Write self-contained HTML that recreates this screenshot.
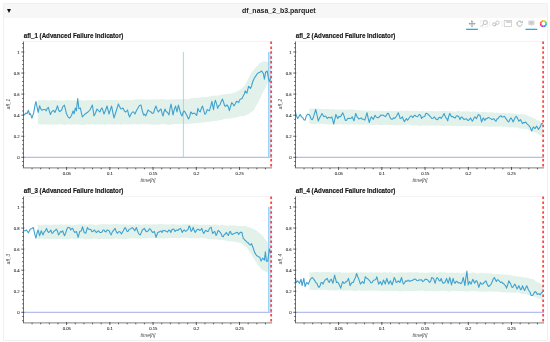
<!DOCTYPE html>
<html><head><meta charset="utf-8"><title>df_nasa_2_b3.parquet</title>
<style>
html,body{margin:0;padding:0;background:#fff;}
body{width:550px;height:342px;overflow:hidden;position:relative;font-family:"Liberation Sans",Arial,sans-serif;}
.card{position:absolute;left:2.8px;top:2.8px;width:543.4px;height:335.8px;border:1px solid #f0f0f0;border-radius:1px;background:#fff;box-sizing:content-box;}
.hdr{position:absolute;left:4px;top:4px;width:543px;height:13.5px;background:#f7f7f7;}
.hdr .arrow{position:absolute;left:3.4px;top:5.2px;width:0;height:0;border-left:2.2px solid transparent;border-right:2.2px solid transparent;border-top:4.2px solid #111;}
.hdr .ttl{position:absolute;left:7.4px;right:0;top:1.7px;text-align:center;font-weight:bold;font-size:7.3px;line-height:9px;transform:scaleX(0.958);transform-origin:50% 50%;color:#1a1a1a;letter-spacing:0;}
svg{position:absolute;left:0;top:0;}
svg text{font-family:"Liberation Sans",Arial,sans-serif;}
.tk text{font-size:4.25px;fill:#222;stroke:#222;stroke-width:0.06px;}
.al{font-size:4.7px;font-style:italic;fill:#444;}
.tt{font-size:6.65px;font-weight:bold;fill:#151515;stroke:#151515;stroke-width:0.15px;}
</style></head><body>
<div class="card"></div>
<div class="hdr"><div class="arrow"></div><div class="ttl">df_nasa_2_b3.parquet</div></div>
<svg width="550" height="342" viewBox="0 0 550 342">
<g transform="translate(0,0)">
<rect x="23.5" y="41.5" width="248.5" height="126.4" fill="#fff" stroke="#ececec" stroke-width="0.6"/>
<polygon points="37.80,99.89 39.80,100.14 41.80,100.30 43.80,100.11 45.80,99.94 47.80,100.80 49.80,100.33 51.80,100.33 53.80,99.98 55.80,100.07 57.80,100.38 59.80,100.20 61.80,100.48 63.80,100.64 65.80,99.94 67.80,99.90 69.80,100.52 71.80,100.24 73.80,100.43 75.80,100.59 77.80,100.59 79.80,99.83 81.80,100.42 83.80,100.65 85.80,100.23 87.80,100.08 89.80,100.05 91.80,100.34 93.80,100.14 95.80,100.26 97.80,100.00 99.80,100.37 101.80,100.03 103.80,99.78 105.80,100.41 107.80,99.99 109.80,100.03 111.80,100.12 113.80,100.02 115.80,100.09 117.80,100.18 119.80,100.41 121.80,100.21 123.80,99.99 125.80,99.68 127.80,99.88 129.80,99.89 131.80,100.22 133.80,99.66 135.80,99.20 137.80,99.54 139.80,99.53 141.80,99.08 143.80,99.50 145.80,99.49 147.80,99.60 149.80,99.39 151.80,99.59 153.80,99.19 155.80,99.46 157.80,99.54 159.80,99.28 161.80,99.10 163.80,99.13 165.80,99.53 167.80,99.63 169.80,99.35 171.80,99.61 173.80,99.16 175.80,99.34 177.80,99.08 179.80,99.33 181.80,99.17 183.80,98.92 185.80,98.90 187.80,99.19 189.80,98.70 191.80,97.98 193.80,97.99 195.80,97.88 197.80,97.61 199.80,97.66 201.80,97.12 203.80,97.14 205.80,96.98 207.80,97.02 209.80,96.18 211.80,96.17 213.80,95.47 215.80,95.75 217.80,95.38 219.80,95.00 221.80,94.83 223.80,93.96 225.80,94.19 227.80,93.63 229.80,93.89 231.80,93.23 233.80,92.85 235.80,92.09 237.80,90.79 239.80,90.00 241.80,88.56 243.80,86.37 245.80,84.10 247.80,79.53 249.80,75.65 251.80,71.97 253.80,69.78 255.80,66.90 257.80,65.63 259.80,62.76 261.80,62.13 263.80,61.26 265.80,61.47 267.80,61.65 269.80,62.43 271.00,62.49 271.00,77.05 269.80,78.88 267.80,82.96 265.80,87.05 263.80,90.87 261.80,94.48 259.80,99.45 257.80,102.89 255.80,106.53 253.80,110.05 251.80,111.73 249.80,113.05 247.80,114.42 245.80,115.14 243.80,116.16 241.80,116.25 239.80,116.28 237.80,116.91 235.80,117.58 233.80,117.84 231.80,118.29 229.80,118.38 227.80,118.75 225.80,118.82 223.80,119.10 221.80,120.09 219.80,120.12 217.80,120.67 215.80,120.66 213.80,121.29 211.80,121.30 209.80,121.74 207.80,122.36 205.80,121.78 203.80,122.59 201.80,122.56 199.80,122.79 197.80,123.03 195.80,123.28 193.80,123.16 191.80,123.53 189.80,124.02 187.80,123.64 185.80,123.99 183.80,124.19 181.80,123.52 179.80,124.32 177.80,124.28 175.80,123.90 173.80,123.98 171.80,124.61 169.80,124.63 167.80,125.03 165.80,124.01 163.80,124.37 161.80,123.92 159.80,124.75 157.80,124.58 155.80,125.01 153.80,124.62 151.80,124.71 149.80,124.17 147.80,124.29 145.80,124.15 143.80,124.25 141.80,124.06 139.80,124.47 137.80,124.55 135.80,124.35 133.80,124.31 131.80,124.29 129.80,124.56 127.80,124.70 125.80,124.31 123.80,124.26 121.80,124.94 119.80,124.62 117.80,124.33 115.80,124.67 113.80,124.49 111.80,124.69 109.80,124.37 107.80,124.32 105.80,124.99 103.80,124.57 101.80,124.60 99.80,124.72 97.80,124.26 95.80,124.65 93.80,124.40 91.80,124.06 89.80,124.43 87.80,124.55 85.80,124.22 83.80,125.00 81.80,125.05 79.80,124.47 77.80,124.68 75.80,124.26 73.80,124.54 71.80,124.68 69.80,124.38 67.80,124.11 65.80,124.88 63.80,125.01 61.80,124.25 59.80,124.28 57.80,124.64 55.80,124.68 53.80,124.32 51.80,124.83 49.80,124.71 47.80,124.38 45.80,124.43 43.80,124.31 41.80,124.44 39.80,124.27 37.80,124.42" fill="#e2f2ea"/>
<line x1="23.5" y1="157.3" x2="272" y2="157.3" stroke="#a0a6e8" stroke-width="0.95"/>
<rect x="268.4" y="51.9" width="2.8" height="105.4" fill="#c4e5f9"/>
<line x1="268.5" y1="51.9" x2="268.5" y2="157.3" stroke="#8acff5" stroke-width="0.8"/>
<line x1="183.4" y1="51.9" x2="183.4" y2="157.3" stroke="#86d8f5" stroke-width="0.85"/>
<polyline points="23.60,114.50 24.70,114.51 25.80,113.10 27.00,113.80 28.40,110.20 29.50,114.50 30.50,113.80 31.90,118.20 33.80,112.40 34.90,105.70 36.00,101.50 37.10,107.30 38.20,112.40 39.60,105.80 40.70,108.65 41.80,110.20 42.90,109.85 44.00,109.50 45.10,109.48 46.20,110.90 47.30,108.31 48.40,107.30 49.45,111.58 50.50,114.50 51.60,111.84 52.70,110.90 53.80,110.58 54.90,112.40 56.20,109.58 57.50,105.80 58.55,109.88 59.60,111.60 61.50,110.20 62.95,106.36 64.40,105.10 65.45,109.48 66.50,113.80 68.00,116.81 69.50,118.20 70.55,117.04 71.60,115.30 73.10,110.90 74.10,113.80 75.30,108.00 76.40,110.90 77.70,98.50 78.90,108.70 80.40,108.00 81.40,113.08 82.40,117.00 85.20,113.96 88.00,112.00 90.20,109.59 92.40,105.00 94.00,116.00 95.50,113.06 97.00,109.00 98.50,110.61 100.00,112.00 101.00,109.07 102.00,108.00 103.00,110.67 104.00,114.00 105.50,110.45 107.00,106.00 108.00,109.85 109.00,114.00 110.30,109.83 111.60,106.00 112.80,112.31 114.00,118.00 116.20,111.03 118.40,104.00 119.70,106.89 121.00,109.00 122.00,108.76 123.00,108.00 124.30,110.79 125.60,112.00 126.60,111.06 127.60,110.00 128.60,114.56 129.60,117.00 131.00,114.03 132.40,112.00 133.70,111.94 135.00,114.00 136.50,110.48 138.00,108.00 139.50,105.50 141.00,105.00 142.30,110.85 143.60,115.00 144.60,114.32 145.60,116.00 146.80,113.33 148.00,110.00 149.50,111.12 151.00,112.00 152.30,113.33 153.60,113.00 154.80,108.72 156.00,106.00 157.20,109.93 158.40,112.00 159.70,110.11 161.00,109.00 162.00,113.16 163.00,116.00 164.00,111.97 165.00,109.00 166.00,111.50 167.00,112.00 168.00,113.05 169.00,115.00 170.00,108.63 171.00,104.00 172.00,109.22 173.00,115.00 174.30,109.44 175.60,106.00 177.00,112.00 178.40,105.00 180.00,111.00 181.00,114.33 182.00,116.00 183.00,112.59 184.00,111.00 185.00,112.00 186.75,115.20 188.50,119.00 189.65,116.66 190.80,112.00 192.55,113.82 194.30,113.10 195.50,114.14 196.70,115.40 197.90,108.40 199.05,111.00 200.20,111.90 201.35,108.30 202.50,106.00 203.70,110.40 204.90,114.30 206.05,113.00 207.20,109.60 208.35,110.24 209.50,110.70 210.70,106.28 211.90,101.40 213.50,109.60 214.45,103.70 215.40,100.20 216.55,103.93 217.70,108.40 218.85,105.56 220.00,104.90 221.20,101.44 222.40,99.00 223.55,102.06 224.70,106.00 225.85,106.16 227.00,104.90 228.20,106.60 229.40,110.70 230.55,106.47 231.70,102.60 232.85,103.82 234.00,106.00 235.20,104.05 236.40,101.40 237.55,101.60 238.70,102.60 239.85,99.61 241.00,99.00 242.20,98.29 243.40,95.60 244.35,93.93 245.30,90.90 246.90,93.20 248.60,86.20 250.40,88.50 251.60,85.98 252.80,81.50 253.95,78.99 255.10,76.90 256.25,75.42 257.40,73.40 258.60,72.84 259.80,72.20 261.60,71.00 263.30,73.40 264.40,79.20 265.60,72.20 267.20,71.00 268.60,79.20 269.60,81.50 270.50,78.00 271.00,78.00" fill="none" stroke="#3fa2d0" stroke-width="1.1" stroke-linejoin="round"/>
<line x1="271.1" y1="41.5" x2="271.1" y2="167.9" stroke="#ff2a2a" stroke-width="1.5" stroke-dasharray="2.5 2.4"/>
<path d="M23.5 167.9H272" fill="none" stroke="#555" stroke-width="0.7"/>
<path d="M23.5 41.5V168.2" fill="none" stroke="#3a3a3a" stroke-width="0.7"/>
<path d="M22.2 165.72H23.5M22.2 161.51H23.5M21.3 157.30H24.3M22.2 153.09H23.5M22.2 148.88H23.5M22.2 144.66H23.5M22.2 140.45H23.5M21.3 136.24H24.3M22.2 132.03H23.5M22.2 127.82H23.5M22.2 123.60H23.5M22.2 119.39H23.5M21.3 115.18H24.3M22.2 110.97H23.5M22.2 106.76H23.5M22.2 102.54H23.5M22.2 98.33H23.5M21.3 94.12H24.3M22.2 89.91H23.5M22.2 85.70H23.5M22.2 81.48H23.5M22.2 77.27H23.5M21.3 73.06H24.3M22.2 68.85H23.5M22.2 64.64H23.5M22.2 60.42H23.5M22.2 56.21H23.5M21.3 52.00H24.3M22.2 47.79H23.5M22.2 43.58H23.5M32.05 167.9V169.3M40.69 167.9V169.3M49.33 167.9V169.3M57.98 167.9V169.3M66.62 167.0V170.0M75.27 167.9V169.3M83.91 167.9V169.3M92.56 167.9V169.3M101.20 167.9V169.3M109.85 167.0V170.0M118.50 167.9V169.3M127.14 167.9V169.3M135.78 167.9V169.3M144.43 167.9V169.3M153.07 167.0V170.0M161.72 167.9V169.3M170.37 167.9V169.3M179.01 167.9V169.3M187.66 167.9V169.3M196.30 167.0V170.0M204.94 167.9V169.3M213.59 167.9V169.3M222.23 167.9V169.3M230.88 167.9V169.3M239.53 167.0V170.0M248.17 167.9V169.3M256.81 167.9V169.3M265.46 167.9V169.3" stroke="#333" stroke-width="0.8" fill="none"/>
<g class="tk" text-anchor="end">
<text x="19.6" y="158.80">0</text>
<text x="19.6" y="137.74">0.2</text>
<text x="19.6" y="116.68">0.4</text>
<text x="19.6" y="95.62">0.6</text>
<text x="19.6" y="74.56">0.8</text>
<text x="19.6" y="53.50">1</text>
</g><g class="tk" text-anchor="middle">
<text x="66.83" y="175.4">0.05</text>
<text x="110.05" y="175.4">0.1</text>
<text x="153.27" y="175.4">0.15</text>
<text x="196.50" y="175.4">0.2</text>
<text x="239.72" y="175.4">0.25</text>
</g>
<text class="al" x="148" y="182.4" text-anchor="middle" style="font-size:4.95px">time[h]</text>
<text class="al" transform="translate(9.7,104.1) rotate(-90)" text-anchor="middle">afl_1</text>
<text class="tt" x="23.7" y="38.15" textLength="99.7" lengthAdjust="spacingAndGlyphs">afl_1 (Advanced Failure Indicator)</text>
</g>
<g transform="translate(272,0)">
<rect x="23.5" y="41.5" width="248.5" height="126.4" fill="#fff" stroke="#ececec" stroke-width="0.6"/>
<polygon points="37.20,108.72 39.20,108.50 41.20,108.35 43.20,108.87 45.20,108.61 47.20,108.79 49.20,108.88 51.20,108.99 53.20,109.23 55.20,108.78 57.20,108.99 59.20,109.42 61.20,108.96 63.20,109.38 65.20,109.59 67.20,109.64 69.20,109.59 71.20,109.41 73.20,109.67 75.20,109.54 77.20,109.75 79.20,109.27 81.20,109.51 83.20,109.94 85.20,110.25 87.20,110.08 89.20,110.41 91.20,110.25 93.20,110.89 95.20,110.53 97.20,110.72 99.20,110.20 101.20,111.00 103.20,110.70 105.20,110.78 107.20,110.64 109.20,110.91 111.20,110.77 113.20,111.21 115.20,111.10 117.20,110.91 119.20,110.75 121.20,110.67 123.20,110.82 125.20,111.25 127.20,110.85 129.20,110.53 131.20,111.01 133.20,110.64 135.20,110.59 137.20,110.88 139.20,110.75 141.20,111.01 143.20,110.86 145.20,110.77 147.20,111.17 149.20,110.92 151.20,111.05 153.20,111.46 155.20,111.14 157.20,111.36 159.20,111.00 161.20,111.27 163.20,111.24 165.20,111.52 167.20,111.01 169.20,111.34 171.20,110.68 173.20,111.02 175.20,111.00 177.20,111.36 179.20,111.04 181.20,111.43 183.20,111.66 185.20,111.02 187.20,111.02 189.20,111.79 191.20,111.28 193.20,111.38 195.20,111.26 197.20,111.43 199.20,111.63 201.20,111.38 203.20,111.67 205.20,111.51 207.20,112.53 209.20,112.34 211.20,111.84 213.20,111.69 215.20,112.41 217.20,112.47 219.20,112.31 221.20,112.51 223.20,112.71 225.20,112.74 227.20,113.10 229.20,113.12 231.20,112.63 233.20,112.97 235.20,113.41 237.20,112.85 239.20,113.41 241.20,113.60 243.20,113.77 245.20,113.68 247.20,114.52 249.20,114.02 251.20,114.39 253.20,114.48 255.20,115.18 257.20,116.37 259.20,117.01 261.20,117.93 263.20,118.74 265.20,120.28 267.20,120.41 269.20,122.32 271.00,122.52 271.00,136.50 269.20,135.82 267.20,134.84 265.20,133.41 263.20,132.50 261.20,131.93 259.20,130.81 257.20,130.57 255.20,129.06 253.20,128.77 251.20,128.73 249.20,128.58 247.20,128.61 245.20,127.30 243.20,127.66 241.20,127.12 239.20,127.42 237.20,127.15 235.20,126.68 233.20,126.65 231.20,127.08 229.20,126.13 227.20,126.55 225.20,126.58 223.20,126.77 221.20,126.51 219.20,126.58 217.20,126.64 215.20,126.40 213.20,126.53 211.20,126.24 209.20,125.98 207.20,126.12 205.20,126.24 203.20,125.89 201.20,125.92 199.20,126.25 197.20,126.18 195.20,126.31 193.20,125.79 191.20,125.90 189.20,126.51 187.20,125.83 185.20,126.02 183.20,126.05 181.20,126.07 179.20,126.03 177.20,125.85 175.20,125.44 173.20,125.95 171.20,125.96 169.20,125.66 167.20,125.59 165.20,125.56 163.20,125.63 161.20,125.54 159.20,125.55 157.20,125.92 155.20,125.53 153.20,125.46 151.20,125.42 149.20,125.93 147.20,125.67 145.20,125.54 143.20,125.49 141.20,125.75 139.20,125.52 137.20,124.62 135.20,124.82 133.20,124.94 131.20,125.28 129.20,125.22 127.20,125.17 125.20,125.25 123.20,125.58 121.20,124.94 119.20,125.10 117.20,125.25 115.20,124.76 113.20,124.85 111.20,124.92 109.20,125.13 107.20,125.12 105.20,124.56 103.20,124.83 101.20,125.13 99.20,124.83 97.20,124.69 95.20,124.73 93.20,124.15 91.20,124.66 89.20,124.60 87.20,124.72 85.20,124.38 83.20,124.59 81.20,124.52 79.20,124.13 77.20,124.74 75.20,124.82 73.20,124.46 71.20,124.66 69.20,124.34 67.20,124.37 65.20,124.39 63.20,124.48 61.20,123.88 59.20,124.62 57.20,124.23 55.20,124.38 53.20,124.21 51.20,124.01 49.20,123.74 47.20,124.18 45.20,123.41 43.20,124.43 41.20,123.97 39.20,123.95 37.20,123.44" fill="#e2f2ea"/>
<line x1="23.5" y1="157.3" x2="272" y2="157.3" stroke="#a0a6e8" stroke-width="0.95"/>
<polyline points="23.50,112.01 24.10,115.20 25.70,118.50 26.95,116.49 28.20,114.40 29.40,116.71 30.60,117.60 31.85,119.81 33.10,120.10 34.30,115.97 35.50,114.40 36.60,114.31 37.70,115.20 39.30,119.30 40.30,119.64 41.30,117.60 42.50,113.58 43.70,109.50 44.95,114.73 46.20,120.90 47.80,117.60 48.90,115.65 50.00,113.50 51.90,116.80 53.60,116.00 55.20,118.50 56.40,117.33 57.60,117.60 58.70,118.00 59.80,116.80 60.75,120.09 61.70,124.20 62.80,119.40 63.90,114.40 65.80,118.50 67.05,116.37 68.30,116.80 69.50,115.20 70.70,112.70 71.95,115.65 73.20,120.10 74.40,120.42 75.60,118.50 76.85,118.17 78.10,118.50 79.15,118.31 80.20,116.80 81.90,120.90 83.80,113.50 84.80,116.23 85.80,117.60 86.85,119.01 87.90,118.50 89.15,117.89 90.40,119.30 91.60,119.18 92.80,120.10 93.90,116.33 95.00,112.70 96.15,118.05 97.30,122.50 98.35,119.02 99.40,116.80 101.30,119.30 103.10,115.20 104.10,116.92 105.10,117.60 106.30,117.61 107.50,116.80 108.70,115.17 109.90,115.20 111.15,115.14 112.40,116.00 113.45,116.61 114.50,115.20 115.50,113.27 116.50,113.50 118.10,117.60 119.30,119.09 120.50,119.30 121.60,117.76 122.70,118.50 124.60,116.00 126.30,112.70 128.20,118.50 129.30,118.25 130.40,116.80 131.45,119.88 132.50,121.70 133.50,119.86 134.50,118.50 135.45,120.18 136.40,119.30 137.50,117.53 138.60,116.00 139.65,115.99 140.70,117.60 141.85,116.01 143.00,115.20 144.30,116.56 145.60,116.80 146.60,115.23 147.60,114.40 148.55,115.28 149.50,118.50 150.55,117.17 151.60,116.80 152.70,116.45 153.80,113.50 154.95,113.40 156.10,114.40 157.70,116.00 158.75,117.15 159.80,118.50 161.05,118.26 162.30,116.80 164.20,119.30 165.55,119.60 166.90,117.60 168.05,117.21 169.20,118.50 170.80,116.00 172.10,113.50 173.70,117.60 174.70,118.50 175.70,120.90 176.75,116.24 177.80,113.50 179.50,116.80 180.70,116.44 181.90,117.60 183.15,118.09 184.40,116.00 185.60,115.74 186.80,116.80 188.00,119.60 189.00,117.34 190.00,117.10 191.05,118.36 192.10,119.60 193.30,119.04 194.50,118.70 195.50,120.16 196.50,120.40 197.55,119.46 198.60,117.90 200.30,121.20 201.35,119.46 202.40,117.10 203.40,116.99 204.40,118.70 205.35,116.75 206.30,114.60 208.00,115.50 209.60,122.00 211.20,117.90 212.90,120.40 213.95,118.56 215.00,118.70 216.25,117.40 217.50,117.90 218.70,118.62 219.90,119.60 220.95,118.97 222.00,118.70 223.00,120.56 224.00,121.20 225.00,118.84 226.00,118.70 227.05,116.92 228.10,116.30 229.15,115.83 230.20,117.10 231.35,116.72 232.50,116.30 233.55,118.16 234.60,119.60 235.70,121.16 236.80,122.00 237.95,119.21 239.10,117.90 240.15,119.74 241.20,122.00 242.25,119.46 243.30,117.10 244.30,116.42 245.30,117.90 246.90,121.20 248.60,119.60 249.55,121.78 250.50,123.60 251.55,122.49 252.60,122.80 253.70,121.99 254.80,123.60 256.70,125.30 258.40,127.70 259.70,131.00 261.30,126.90 263.00,128.60 264.60,126.10 266.50,129.40 268.20,126.90 269.50,123.60 271.00,123.80" fill="none" stroke="#3fa2d0" stroke-width="1.1" stroke-linejoin="round"/>
<line x1="271.1" y1="41.5" x2="271.1" y2="167.9" stroke="#ff2a2a" stroke-width="1.5" stroke-dasharray="2.5 2.4"/>
<path d="M23.5 167.9H272" fill="none" stroke="#555" stroke-width="0.7"/>
<path d="M23.5 41.5V168.2" fill="none" stroke="#3a3a3a" stroke-width="0.7"/>
<path d="M22.2 165.72H23.5M22.2 161.51H23.5M21.3 157.30H24.3M22.2 153.09H23.5M22.2 148.88H23.5M22.2 144.66H23.5M22.2 140.45H23.5M21.3 136.24H24.3M22.2 132.03H23.5M22.2 127.82H23.5M22.2 123.60H23.5M22.2 119.39H23.5M21.3 115.18H24.3M22.2 110.97H23.5M22.2 106.76H23.5M22.2 102.54H23.5M22.2 98.33H23.5M21.3 94.12H24.3M22.2 89.91H23.5M22.2 85.70H23.5M22.2 81.48H23.5M22.2 77.27H23.5M21.3 73.06H24.3M22.2 68.85H23.5M22.2 64.64H23.5M22.2 60.42H23.5M22.2 56.21H23.5M21.3 52.00H24.3M22.2 47.79H23.5M22.2 43.58H23.5M32.05 167.9V169.3M40.69 167.9V169.3M49.33 167.9V169.3M57.98 167.9V169.3M66.62 167.0V170.0M75.27 167.9V169.3M83.91 167.9V169.3M92.56 167.9V169.3M101.20 167.9V169.3M109.85 167.0V170.0M118.50 167.9V169.3M127.14 167.9V169.3M135.78 167.9V169.3M144.43 167.9V169.3M153.07 167.0V170.0M161.72 167.9V169.3M170.37 167.9V169.3M179.01 167.9V169.3M187.66 167.9V169.3M196.30 167.0V170.0M204.94 167.9V169.3M213.59 167.9V169.3M222.23 167.9V169.3M230.88 167.9V169.3M239.53 167.0V170.0M248.17 167.9V169.3M256.81 167.9V169.3M265.46 167.9V169.3" stroke="#333" stroke-width="0.8" fill="none"/>
<g class="tk" text-anchor="end">
<text x="19.6" y="158.80">0</text>
<text x="19.6" y="137.74">0.2</text>
<text x="19.6" y="116.68">0.4</text>
<text x="19.6" y="95.62">0.6</text>
<text x="19.6" y="74.56">0.8</text>
<text x="19.6" y="53.50">1</text>
</g><g class="tk" text-anchor="middle">
<text x="66.83" y="175.4">0.05</text>
<text x="110.05" y="175.4">0.1</text>
<text x="153.27" y="175.4">0.15</text>
<text x="196.50" y="175.4">0.2</text>
<text x="239.72" y="175.4">0.25</text>
</g>
<text class="al" x="148" y="182.4" text-anchor="middle" style="font-size:4.95px">time[h]</text>
<text class="al" transform="translate(9.7,104.1) rotate(-90)" text-anchor="middle">afl_2</text>
<text class="tt" x="23.7" y="38.15" textLength="99.7" lengthAdjust="spacingAndGlyphs">afl_2 (Advanced Failure Indicator)</text>
</g>
<g transform="translate(0,155)">
<rect x="23.5" y="41.5" width="248.5" height="126.4" fill="#fff" stroke="#ececec" stroke-width="0.6"/>
<polygon points="37.70,69.52 39.70,69.88 41.70,70.15 43.70,69.68 45.70,69.56 47.70,69.63 49.70,69.71 51.70,69.63 53.70,69.52 55.70,69.40 57.70,69.74 59.70,69.52 61.70,69.30 63.70,69.84 65.70,69.38 67.70,69.60 69.70,69.73 71.70,69.70 73.70,69.91 75.70,69.65 77.70,69.46 79.70,69.53 81.70,69.30 83.70,69.50 85.70,69.66 87.70,69.73 89.70,69.07 91.70,69.60 93.70,69.39 95.70,70.05 97.70,69.83 99.70,69.27 101.70,69.19 103.70,68.99 105.70,69.49 107.70,69.36 109.70,69.52 111.70,69.39 113.70,68.95 115.70,69.19 117.70,69.06 119.70,69.43 121.70,69.30 123.70,69.30 125.70,69.29 127.70,69.86 129.70,69.55 131.70,69.65 133.70,69.88 135.70,69.04 137.70,69.49 139.70,69.35 141.70,70.00 143.70,69.34 145.70,69.11 147.70,69.48 149.70,69.33 151.70,69.62 153.70,69.29 155.70,69.18 157.70,69.22 159.70,68.78 161.70,69.22 163.70,69.22 165.70,69.36 167.70,69.43 169.70,69.41 171.70,69.25 173.70,69.01 175.70,69.57 177.70,69.49 179.70,69.66 181.70,69.46 183.70,69.16 185.70,69.27 187.70,69.24 189.70,69.43 191.70,69.54 193.70,69.47 195.70,69.25 197.70,69.40 199.70,69.67 201.70,69.67 203.70,69.60 205.70,69.89 207.70,69.44 209.70,69.68 211.70,69.86 213.70,69.58 215.70,69.44 217.70,69.66 219.70,70.47 221.70,69.52 223.70,70.29 225.70,70.21 227.70,70.93 229.70,70.26 231.70,70.61 233.70,70.36 235.70,70.72 237.70,70.99 239.70,71.03 241.70,71.29 243.70,70.93 245.70,70.93 247.70,71.94 249.70,72.18 251.70,73.19 253.70,74.05 255.70,74.96 257.70,76.74 259.70,78.15 261.70,79.80 263.70,82.11 265.70,84.95 267.70,87.50 269.70,90.16 271.00,92.30 271.00,118.96 269.70,118.09 267.70,117.58 265.70,116.75 263.70,115.71 261.70,114.58 259.70,112.07 257.70,110.09 255.70,106.67 253.70,103.42 251.70,100.25 249.70,96.89 247.70,94.03 245.70,91.22 243.70,90.07 241.70,88.45 239.70,87.49 237.70,87.66 235.70,86.65 233.70,86.87 231.70,86.43 229.70,86.34 227.70,86.21 225.70,85.39 223.70,85.26 221.70,84.81 219.70,85.13 217.70,84.60 215.70,84.30 213.70,84.60 211.70,83.96 209.70,84.13 207.70,84.14 205.70,83.16 203.70,83.26 201.70,82.87 199.70,83.47 197.70,82.96 195.70,83.35 193.70,82.91 191.70,83.27 189.70,83.51 187.70,82.92 185.70,82.75 183.70,82.76 181.70,82.69 179.70,83.30 177.70,83.14 175.70,82.98 173.70,83.06 171.70,83.08 169.70,82.92 167.70,83.23 165.70,83.29 163.70,83.79 161.70,83.09 159.70,83.71 157.70,83.26 155.70,83.19 153.70,83.26 151.70,83.27 149.70,83.13 147.70,83.25 145.70,83.71 143.70,83.24 141.70,83.67 139.70,83.69 137.70,83.50 135.70,83.72 133.70,83.06 131.70,83.49 129.70,83.52 127.70,83.76 125.70,84.02 123.70,84.33 121.70,83.85 119.70,83.84 117.70,83.86 115.70,83.28 113.70,83.69 111.70,83.92 109.70,83.97 107.70,83.88 105.70,83.93 103.70,83.93 101.70,83.75 99.70,84.32 97.70,83.97 95.70,83.52 93.70,83.68 91.70,84.12 89.70,84.24 87.70,84.07 85.70,84.44 83.70,84.00 81.70,83.62 79.70,83.76 77.70,83.83 75.70,83.90 73.70,84.16 71.70,83.58 69.70,83.96 67.70,84.33 65.70,84.20 63.70,84.16 61.70,83.72 59.70,84.10 57.70,83.98 55.70,83.86 53.70,84.04 51.70,84.01 49.70,84.31 47.70,84.00 45.70,83.74 43.70,84.16 41.70,83.37 39.70,84.13 37.70,83.88" fill="#e2f2ea"/>
<line x1="23.5" y1="157.3" x2="272" y2="157.3" stroke="#a0a6e8" stroke-width="0.95"/>
<rect x="268.4" y="51.9" width="2.8" height="105.4" fill="#c4e5f9"/>
<line x1="268.5" y1="51.9" x2="268.5" y2="157.3" stroke="#8acff5" stroke-width="0.8"/>
<polyline points="23.50,75.13 24.10,75.80 25.30,75.79 26.50,75.00 27.50,76.46 28.50,77.90 30.10,74.20 31.80,73.40 33.40,72.50 34.65,78.83 35.90,83.20 36.95,78.27 38.00,75.00 39.60,80.70 41.30,75.80 42.90,79.90 44.50,76.60 45.50,75.92 46.50,73.40 47.55,76.10 48.60,77.50 49.70,76.68 50.80,75.00 51.75,77.92 52.70,78.30 53.70,76.42 54.70,75.80 56.30,74.20 57.40,75.82 58.50,79.90 59.55,78.60 60.60,76.60 61.60,77.10 62.60,75.80 64.50,80.70 65.55,78.46 66.60,75.00 67.70,72.50 68.80,72.50 69.75,72.74 70.70,75.00 71.70,73.67 72.70,73.40 73.75,75.94 74.80,77.50 76.50,76.60 78.10,82.40 79.70,76.60 81.40,75.80 82.50,71.70 84.20,77.50 85.80,78.30 87.40,72.50 88.50,74.29 89.60,74.20 90.80,74.62 92.00,76.60 93.25,76.21 94.50,75.00 95.55,76.77 96.60,77.50 97.60,76.27 98.60,75.80 99.80,77.40 101.00,77.50 102.05,77.07 103.10,75.00 104.05,75.01 105.00,76.60 106.00,76.97 107.00,75.00 108.05,75.34 109.10,75.80 110.15,78.28 111.20,79.90 112.20,77.10 113.20,75.80 115.10,73.40 116.20,76.65 117.30,78.30 118.35,76.98 119.40,76.60 120.40,77.31 121.40,79.10 123.30,75.80 125.00,72.50 126.05,74.03 127.10,76.60 128.15,76.25 129.20,74.20 130.20,73.94 131.20,73.40 132.20,72.60 133.20,73.40 134.80,75.80 136.40,72.50 138.10,77.50 139.15,79.26 140.20,79.90 141.25,77.81 142.30,75.00 143.30,74.29 144.30,73.40 146.20,76.60 147.30,76.39 148.40,75.80 149.45,73.73 150.50,74.20 151.65,76.36 152.80,77.50 154.40,76.60 156.10,82.40 157.70,77.50 158.75,77.14 159.80,76.60 160.90,75.96 162.00,77.50 162.95,75.39 163.90,75.80 165.15,75.62 166.40,76.60 167.60,77.09 168.80,75.00 169.80,75.54 170.80,77.50 171.85,74.82 172.90,74.20 173.95,74.14 175.00,76.60 176.00,75.39 177.00,75.00 178.00,75.40 179.00,74.20 180.60,73.40 182.30,77.50 183.35,75.52 184.40,75.00 185.70,76.33 187.00,75.40 188.05,74.42 189.10,70.90 190.10,72.38 191.10,76.40 192.15,75.09 193.20,72.30 194.20,75.33 195.20,77.40 196.25,75.94 197.30,74.40 198.50,74.30 199.70,75.40 200.75,74.83 201.80,73.40 202.80,76.67 203.80,78.50 205.40,75.40 206.45,75.84 207.50,76.40 208.50,76.17 209.50,73.40 211.20,72.30 212.60,78.50 213.65,77.44 214.70,76.40 216.10,80.50 217.10,78.40 218.10,75.40 219.15,76.22 220.20,77.40 221.20,78.83 222.20,81.50 223.25,81.65 224.30,79.50 225.30,78.94 226.30,77.40 227.35,79.37 228.40,80.50 229.40,77.24 230.40,76.40 231.40,79.01 232.40,79.50 233.45,78.79 234.50,78.50 235.50,77.89 236.50,77.40 237.55,77.50 238.60,79.50 240.20,77.40 241.90,77.40 243.30,83.60 244.30,84.24 245.30,85.60 246.35,86.20 247.40,87.70 248.40,87.78 249.40,89.70 250.45,89.97 251.50,88.70 252.50,91.31 253.50,93.80 254.55,97.37 255.60,98.90 256.60,100.72 257.60,101.00 258.60,101.84 259.60,102.00 261.10,106.10 262.70,103.00 264.40,105.10 265.40,96.90 266.40,106.10 267.80,106.10 269.30,93.80 270.50,97.90 271.00,98.00" fill="none" stroke="#3fa2d0" stroke-width="1.1" stroke-linejoin="round"/>
<line x1="271.1" y1="41.5" x2="271.1" y2="167.9" stroke="#ff2a2a" stroke-width="1.5" stroke-dasharray="2.5 2.4"/>
<path d="M23.5 167.9H272" fill="none" stroke="#555" stroke-width="0.7"/>
<path d="M23.5 41.5V168.2" fill="none" stroke="#3a3a3a" stroke-width="0.7"/>
<path d="M22.2 165.72H23.5M22.2 161.51H23.5M21.3 157.30H24.3M22.2 153.09H23.5M22.2 148.88H23.5M22.2 144.66H23.5M22.2 140.45H23.5M21.3 136.24H24.3M22.2 132.03H23.5M22.2 127.82H23.5M22.2 123.60H23.5M22.2 119.39H23.5M21.3 115.18H24.3M22.2 110.97H23.5M22.2 106.76H23.5M22.2 102.54H23.5M22.2 98.33H23.5M21.3 94.12H24.3M22.2 89.91H23.5M22.2 85.70H23.5M22.2 81.48H23.5M22.2 77.27H23.5M21.3 73.06H24.3M22.2 68.85H23.5M22.2 64.64H23.5M22.2 60.42H23.5M22.2 56.21H23.5M21.3 52.00H24.3M22.2 47.79H23.5M22.2 43.58H23.5M32.05 167.9V169.3M40.69 167.9V169.3M49.33 167.9V169.3M57.98 167.9V169.3M66.62 167.0V170.0M75.27 167.9V169.3M83.91 167.9V169.3M92.56 167.9V169.3M101.20 167.9V169.3M109.85 167.0V170.0M118.50 167.9V169.3M127.14 167.9V169.3M135.78 167.9V169.3M144.43 167.9V169.3M153.07 167.0V170.0M161.72 167.9V169.3M170.37 167.9V169.3M179.01 167.9V169.3M187.66 167.9V169.3M196.30 167.0V170.0M204.94 167.9V169.3M213.59 167.9V169.3M222.23 167.9V169.3M230.88 167.9V169.3M239.53 167.0V170.0M248.17 167.9V169.3M256.81 167.9V169.3M265.46 167.9V169.3" stroke="#333" stroke-width="0.8" fill="none"/>
<g class="tk" text-anchor="end">
<text x="19.6" y="158.80">0</text>
<text x="19.6" y="137.74">0.2</text>
<text x="19.6" y="116.68">0.4</text>
<text x="19.6" y="95.62">0.6</text>
<text x="19.6" y="74.56">0.8</text>
<text x="19.6" y="53.50">1</text>
</g><g class="tk" text-anchor="middle">
<text x="66.83" y="175.4">0.05</text>
<text x="110.05" y="175.4">0.1</text>
<text x="153.27" y="175.4">0.15</text>
<text x="196.50" y="175.4">0.2</text>
<text x="239.72" y="175.4">0.25</text>
</g>
<text class="al" x="148" y="182.4" text-anchor="middle" style="font-size:4.95px">time[h]</text>
<text class="al" transform="translate(9.7,104.1) rotate(-90)" text-anchor="middle">afl_3</text>
<text class="tt" x="23.7" y="38.15" textLength="99.7" lengthAdjust="spacingAndGlyphs">afl_3 (Advanced Failure Indicator)</text>
</g>
<g transform="translate(272,155)">
<rect x="23.5" y="41.5" width="248.5" height="126.4" fill="#fff" stroke="#ececec" stroke-width="0.6"/>
<polygon points="37.50,117.10 39.50,117.41 41.50,117.29 43.50,116.94 45.50,117.01 47.50,117.20 49.50,117.15 51.50,117.05 53.50,117.22 55.50,116.95 57.50,117.09 59.50,117.55 61.50,117.17 63.50,117.23 65.50,117.40 67.50,116.77 69.50,117.73 71.50,117.41 73.50,117.82 75.50,117.65 77.50,117.44 79.50,117.43 81.50,117.20 83.50,117.57 85.50,117.12 87.50,117.45 89.50,117.27 91.50,117.44 93.50,117.28 95.50,117.66 97.50,117.43 99.50,117.35 101.50,117.74 103.50,117.30 105.50,117.50 107.50,117.30 109.50,117.91 111.50,117.35 113.50,117.18 115.50,117.82 117.50,117.21 119.50,117.33 121.50,118.07 123.50,117.67 125.50,117.44 127.50,117.46 129.50,117.28 131.50,117.54 133.50,117.73 135.50,117.34 137.50,117.28 139.50,117.56 141.50,117.60 143.50,117.33 145.50,117.15 147.50,117.76 149.50,117.63 151.50,117.61 153.50,118.01 155.50,117.59 157.50,117.50 159.50,117.51 161.50,117.37 163.50,117.68 165.50,118.01 167.50,116.97 169.50,117.20 171.50,117.30 173.50,117.41 175.50,117.67 177.50,117.69 179.50,117.50 181.50,117.80 183.50,117.65 185.50,117.45 187.50,118.06 189.50,118.13 191.50,117.46 193.50,117.36 195.50,117.95 197.50,117.89 199.50,117.82 201.50,117.36 203.50,118.09 205.50,118.48 207.50,118.24 209.50,117.81 211.50,118.02 213.50,118.38 215.50,118.30 217.50,118.59 219.50,118.20 221.50,119.21 223.50,119.11 225.50,119.05 227.50,119.10 229.50,119.52 231.50,119.62 233.50,119.42 235.50,119.84 237.50,119.90 239.50,120.45 241.50,120.99 243.50,120.85 245.50,121.45 247.50,121.53 249.50,121.81 251.50,122.48 253.50,122.60 255.50,122.86 257.50,123.59 259.50,123.98 261.50,124.36 263.50,125.97 265.50,127.29 267.50,127.68 269.50,129.44 271.00,130.51 271.00,144.80 269.50,144.39 267.50,144.12 265.50,142.94 263.50,142.22 261.50,141.40 259.50,140.52 257.50,140.17 255.50,139.90 253.50,138.86 251.50,138.91 249.50,138.92 247.50,138.10 245.50,137.36 243.50,137.79 241.50,137.73 239.50,137.84 237.50,137.48 235.50,137.41 233.50,137.28 231.50,137.56 229.50,137.10 227.50,137.10 225.50,136.56 223.50,137.02 221.50,136.61 219.50,136.77 217.50,136.26 215.50,136.57 213.50,136.79 211.50,136.41 209.50,136.79 207.50,136.59 205.50,136.43 203.50,136.26 201.50,135.98 199.50,136.26 197.50,136.33 195.50,136.68 193.50,136.50 191.50,136.12 189.50,136.11 187.50,136.12 185.50,136.07 183.50,135.92 181.50,135.68 179.50,135.97 177.50,136.63 175.50,136.30 173.50,136.25 171.50,135.72 169.50,136.10 167.50,136.22 165.50,136.02 163.50,136.26 161.50,136.27 159.50,135.82 157.50,136.13 155.50,135.99 153.50,136.60 151.50,135.81 149.50,135.86 147.50,135.87 145.50,135.95 143.50,136.31 141.50,135.98 139.50,136.11 137.50,136.11 135.50,135.99 133.50,136.16 131.50,136.04 129.50,136.50 127.50,136.42 125.50,135.90 123.50,136.08 121.50,135.97 119.50,136.14 117.50,135.82 115.50,136.01 113.50,135.67 111.50,136.14 109.50,135.64 107.50,135.99 105.50,135.71 103.50,135.55 101.50,135.72 99.50,135.48 97.50,135.73 95.50,135.69 93.50,135.45 91.50,136.04 89.50,135.85 87.50,135.62 85.50,135.52 83.50,136.29 81.50,135.95 79.50,135.34 77.50,135.42 75.50,135.54 73.50,135.55 71.50,135.72 69.50,135.42 67.50,135.30 65.50,135.26 63.50,135.75 61.50,135.27 59.50,135.33 57.50,135.58 55.50,134.88 53.50,135.00 51.50,134.59 49.50,135.37 47.50,134.58 45.50,134.98 43.50,135.06 41.50,135.07 39.50,134.81 37.50,135.03" fill="#e2f2ea"/>
<line x1="23.5" y1="157.3" x2="272" y2="157.3" stroke="#a0a6e8" stroke-width="0.95"/>
<polyline points="23.50,122.73 24.10,127.50 25.70,125.80 27.40,128.30 29.00,124.20 30.10,130.70 31.80,123.40 33.10,131.60 34.70,127.50 36.40,129.10 38.00,125.00 39.25,123.25 40.50,122.50 41.70,124.20 42.90,125.80 43.90,127.75 44.90,128.30 45.95,131.10 47.00,132.40 48.05,130.91 49.10,127.50 50.10,127.49 51.10,129.10 52.10,126.45 53.10,125.00 54.15,124.19 55.20,123.40 56.25,126.07 57.30,127.50 58.30,125.06 59.30,124.20 60.90,128.30 62.60,120.10 64.50,127.50 65.55,127.07 66.60,128.30 67.70,130.85 68.80,133.20 69.75,129.34 70.70,126.60 71.70,128.13 72.70,128.30 73.75,126.85 74.80,126.60 76.50,123.40 78.10,130.70 79.15,128.56 80.20,127.50 81.20,127.45 82.20,125.00 83.40,122.82 84.60,118.50 85.70,121.53 86.80,124.20 88.40,129.10 89.40,127.81 90.40,126.60 92.00,128.30 93.30,121.70 94.30,122.95 95.30,123.40 96.50,124.70 97.70,125.80 98.95,127.94 100.20,127.50 101.45,125.32 102.70,125.00 103.75,124.59 104.80,121.70 106.60,129.10 108.30,126.60 109.90,129.90 111.50,125.00 113.20,129.10 114.80,123.40 115.80,126.56 116.80,129.10 118.40,125.80 120.10,129.90 121.15,126.77 122.20,122.50 123.25,124.47 124.30,127.50 125.30,126.91 126.30,125.80 127.90,127.50 129.50,122.50 130.50,126.45 131.50,129.10 132.55,127.82 133.60,125.80 134.85,126.50 136.10,125.00 137.35,126.41 138.60,125.80 139.80,125.78 141.00,125.00 142.25,124.07 143.50,124.20 144.70,125.47 145.90,125.80 147.15,124.82 148.40,125.00 149.60,124.83 150.80,126.60 152.05,125.58 153.30,124.20 154.50,124.36 155.70,125.00 156.70,126.41 157.70,127.50 158.75,125.92 159.80,122.50 161.50,123.40 163.10,128.30 164.15,124.35 165.20,122.50 166.20,123.77 167.20,125.80 168.20,125.83 169.20,123.40 170.25,126.95 171.30,128.30 172.90,127.50 174.60,123.40 176.20,128.30 177.80,122.50 179.50,129.90 181.10,123.40 182.15,127.07 183.20,128.30 184.20,126.28 185.20,126.60 186.45,128.05 187.70,127.50 188.65,128.60 189.60,128.30 191.30,122.50 192.90,130.70 193.90,122.67 194.90,116.00 196.20,129.90 197.50,126.60 199.10,129.10 200.80,124.20 202.70,128.30 203.70,126.02 204.70,125.80 205.75,128.28 206.80,132.40 208.50,127.50 209.55,128.96 210.60,129.10 212.20,127.50 213.90,125.80 215.50,129.90 216.50,131.48 217.50,130.70 218.70,129.86 219.90,127.50 221.15,124.19 222.40,122.50 223.35,124.58 224.30,126.60 225.40,124.71 226.50,125.00 227.55,126.31 228.60,127.50 229.60,126.95 230.60,128.30 231.55,128.32 232.50,129.90 233.55,130.53 234.60,133.20 235.70,129.85 236.80,125.80 238.70,129.10 239.70,131.92 240.70,132.40 241.75,130.82 242.80,129.10 243.90,131.13 245.00,134.00 245.95,132.37 246.90,130.70 248.60,134.80 249.55,134.03 250.50,130.70 251.55,133.50 252.60,135.60 253.70,132.80 254.80,130.70 256.40,134.80 258.00,137.30 259.00,140.19 260.00,140.60 261.00,140.08 262.00,138.10 263.05,136.50 264.10,137.30 265.15,139.36 266.20,138.90 267.20,138.92 268.20,139.70 269.80,137.30 271.00,137.30" fill="none" stroke="#3fa2d0" stroke-width="1.1" stroke-linejoin="round"/>
<line x1="271.1" y1="41.5" x2="271.1" y2="167.9" stroke="#ff2a2a" stroke-width="1.5" stroke-dasharray="2.5 2.4"/>
<path d="M23.5 167.9H272" fill="none" stroke="#555" stroke-width="0.7"/>
<path d="M23.5 41.5V168.2" fill="none" stroke="#3a3a3a" stroke-width="0.7"/>
<path d="M22.2 165.72H23.5M22.2 161.51H23.5M21.3 157.30H24.3M22.2 153.09H23.5M22.2 148.88H23.5M22.2 144.66H23.5M22.2 140.45H23.5M21.3 136.24H24.3M22.2 132.03H23.5M22.2 127.82H23.5M22.2 123.60H23.5M22.2 119.39H23.5M21.3 115.18H24.3M22.2 110.97H23.5M22.2 106.76H23.5M22.2 102.54H23.5M22.2 98.33H23.5M21.3 94.12H24.3M22.2 89.91H23.5M22.2 85.70H23.5M22.2 81.48H23.5M22.2 77.27H23.5M21.3 73.06H24.3M22.2 68.85H23.5M22.2 64.64H23.5M22.2 60.42H23.5M22.2 56.21H23.5M21.3 52.00H24.3M22.2 47.79H23.5M22.2 43.58H23.5M32.05 167.9V169.3M40.69 167.9V169.3M49.33 167.9V169.3M57.98 167.9V169.3M66.62 167.0V170.0M75.27 167.9V169.3M83.91 167.9V169.3M92.56 167.9V169.3M101.20 167.9V169.3M109.85 167.0V170.0M118.50 167.9V169.3M127.14 167.9V169.3M135.78 167.9V169.3M144.43 167.9V169.3M153.07 167.0V170.0M161.72 167.9V169.3M170.37 167.9V169.3M179.01 167.9V169.3M187.66 167.9V169.3M196.30 167.0V170.0M204.94 167.9V169.3M213.59 167.9V169.3M222.23 167.9V169.3M230.88 167.9V169.3M239.53 167.0V170.0M248.17 167.9V169.3M256.81 167.9V169.3M265.46 167.9V169.3" stroke="#333" stroke-width="0.8" fill="none"/>
<g class="tk" text-anchor="end">
<text x="19.6" y="158.80">0</text>
<text x="19.6" y="137.74">0.2</text>
<text x="19.6" y="116.68">0.4</text>
<text x="19.6" y="95.62">0.6</text>
<text x="19.6" y="74.56">0.8</text>
<text x="19.6" y="53.50">1</text>
</g><g class="tk" text-anchor="middle">
<text x="66.83" y="175.4">0.05</text>
<text x="110.05" y="175.4">0.1</text>
<text x="153.27" y="175.4">0.15</text>
<text x="196.50" y="175.4">0.2</text>
<text x="239.72" y="175.4">0.25</text>
</g>
<text class="al" x="148" y="182.4" text-anchor="middle" style="font-size:4.95px">time[h]</text>
<text class="al" transform="translate(9.7,104.1) rotate(-90)" text-anchor="middle">afl_4</text>
<text class="tt" x="23.7" y="38.15" textLength="99.7" lengthAdjust="spacingAndGlyphs">afl_4 (Advanced Failure Indicator)</text>
</g>
<g id="toolbar" fill="none" stroke="#bdbdbd" stroke-width="0.7">
<!-- pan -->
<g transform="translate(472,23.7)" stroke="#858585" stroke-width="0.75"><path d="M-2.9 0H2.9M0 -2.9V2.9M-2.9 0l0.9 -0.9M-2.9 0l0.9 0.9M2.9 0l-0.9 -0.9M2.9 0l-0.9 0.9M0 -2.9l-0.9 0.9M0 -2.9l0.9 0.9M0 2.9l-0.9 -0.9M0 2.9l0.9 -0.9"/></g>
<line x1="466.1" y1="29.35" x2="477.9" y2="29.35" stroke="#29abe2" stroke-width="1.3"/>
<!-- box zoom -->
<g transform="translate(484,23.7)"><rect x="-3.3" y="-3.2" width="6.8" height="6.5" stroke-dasharray="0.9 0.9" stroke="#d0d0d0" stroke-width="0.6"/><circle cx="1.2" cy="-1.1" r="2" stroke="#a8a8a8"/><path d="M-0.3 0.4L-2.6 2.6" stroke="#a8a8a8" stroke-width="0.9"/></g>
<path d="M489.6 21.2V26.4M501.8 21.2V26.4" stroke="#e4e4e4" stroke-width="0.6"/>
<!-- wheel zoom -->
<g transform="translate(495.7,23.7)" stroke="#b0b0b0"><circle cx="-1.8" cy="0.6" r="1.5"/><circle cx="1.8" cy="-1" r="1.7"/><path d="M0.6 0.4L-0.6 2.6"/></g>
<!-- save -->
<g transform="translate(507.9,23.6)" stroke="#c2c2c2"><rect x="-3.7" y="-3" width="7.4" height="6"/><path d="M-1.2 -3V-1.2H2.4V-3" fill="#dcdcdc"/></g>
<!-- reset -->
<g transform="translate(519.5,23.7)" stroke="#a0a0a0" stroke-width="0.85"><path d="M2.2 -1.3A2.55 2.55 0 1 0 2.5 0.6"/><path d="M2.9 -2.9V-1H1" stroke-width="0.7"/></g>
<!-- hover -->
<g transform="translate(531.4,23.3)" stroke="#c2c2c2" stroke-width="0.6"><path d="M-2.6 -2.3H2.6V1.2H0.9L0 2.4L-0.9 1.2H-2.6Z" fill="#dedede"/><path d="M-1.3 -1H1.3M-1.3 0H1.3" stroke="#a8a8a8" stroke-width="0.5"/></g>
<line x1="525.5" y1="29.35" x2="537.3" y2="29.35" stroke="#29abe2" stroke-width="1.3"/>
<!-- bokeh logo -->
<g transform="translate(543.4,23.7)" stroke-width="1.7">
<path d="M0 -2.75A2.75 2.75 0 0 1 1.94 -1.94" stroke="#c9d93a"/>
<path d="M1.94 -1.94A2.75 2.75 0 0 1 2.75 0" stroke="#55c46a"/>
<path d="M2.75 0A2.75 2.75 0 0 1 1.94 1.94" stroke="#25bfd0"/>
<path d="M1.94 1.94A2.75 2.75 0 0 1 0 2.75" stroke="#3a7fe2"/>
<path d="M0 2.75A2.75 2.75 0 0 1 -1.94 1.94" stroke="#a040d0"/>
<path d="M-1.94 1.94A2.75 2.75 0 0 1 -2.75 0" stroke="#ef3560"/>
<path d="M-2.75 0A2.75 2.75 0 0 1 -1.94 -1.94" stroke="#f4552a"/>
<path d="M-1.94 -1.94A2.75 2.75 0 0 1 0 -2.75" stroke="#f9a823"/>
</g>
</g>

</svg>
</body></html>
